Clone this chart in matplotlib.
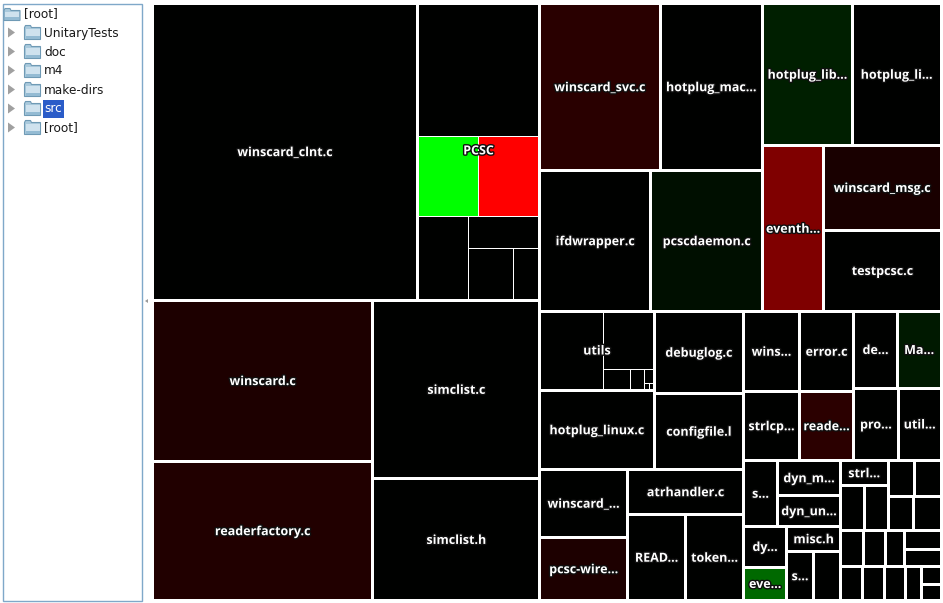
import math
import matplotlib
matplotlib.use('Agg')
import matplotlib.pyplot as plt
import matplotlib.patheffects as pe
from matplotlib.colors import LinearSegmentedColormap, Normalize
from matplotlib.patches import Rectangle, Polygon

# file names in the treemap, "" means the cell is too small for a label
files = ['winscard_clnt.c', '', '', '', '', '', '', '',
         'winscard.c', 'readerfactory.c', 'simclist.c', 'simclist.h',
         'winscard_svc.c', 'hotplug_mac...', 'ifdwrapper.c', 'pcscdaemon.c',
         'hotplug_lib...', 'hotplug_li...', 'eventh...', 'winscard_msg.c', 'testpcsc.c',
         '', '', '', '', '', '', '',
         'hotplug_linux.c', 'debuglog.c', 'configfile.l',
         'winscard_...', 'pcsc-wire...', 'atrhandler.c', 'READ...', 'token...',
         'wins...', 'error.c', 'strlcp...', 'reade...', 'de...', 'Ma...', 'pro...', 'util...',
         's...', 'dyn_m...', 'dyn_un...', 'dy...', 'eve...', 'misc.h', 's...', '',
         'strl...', '', '', '', '', '', '',
         '', '', '', '', '',
         '', '', '', '', '', '']

# size of each file
sizes = [78705, 16300, 4883, 4883, 4250, 2350, 2300, 1318,
         35530, 30670, 29810, 20290,
         20124, 17118, 15651, 15792,
         12780, 12567, 10126, 9929, 9576,
         5066, 2947, 564, 292, 124, 28, 25,
         9046, 7339, 6802,
         5984, 5544, 5220, 4988, 4988,
         4480, 4320, 3864, 3726, 3366, 3328, 3262, 3081,
         2244, 2205, 1953, 1742, 1441, 1350, 1323, 1323,
         1188, 1058, 1080, 954, 954, 867, 935,
         810, 792, 684, 685, 648,
         748, 748, 714, 527, 341, 322]

# change per file, -1 is full red, 0 black, 1 full green
heat = [0, 0, 1, -1, 0, 0, 0, 0,
        -0.11, -0.13, 0, 0,
        -0.16, 0, 0, 0.06,
        0.12, 0, -0.5, -0.1, 0,
        0, 0, 0, 0, 0, 0, 0,
        0, 0, 0,
        0, -0.11, 0, 0, 0,
        0, 0, 0, -0.17, 0, 0.1, 0, 0,
        0, 0, 0, 0, 0.41, 0, 0, 0,
        0, 0, 0, 0, 0, 0, 0,
        0, 0, 0, 0, 0,
        0, 0, 0, 0, 0, 0]

# how the files nest: (split direction, children, directory label)
pcsc = ('v', [1, ('h', [2, 3]),
              ('h', [4, ('v', [5, ('h', [6, 7])])])], 'PCSC')
utils = ('h', [21, ('v', [22, ('h', [23, 24, ('v', [25, ('h', [26, 27])])])])], 'utils')
left_part = ('v', [('h', [0, pcsc]),
                   ('h', [('v', [8, 9]), ('v', [10, 11])])])
top_right = ('h', [('v', [('h', [12, 13]), ('h', [14, 15])]),
                   ('v', [('h', [16, 17]), ('h', [18, ('v', [19, 20])])])])
mid_left = ('v', [('h', [('v', [utils, 28]), ('v', [29, 30])]),
                  ('h', [('v', [31, 32]), ('v', [33, ('h', [34, 35])])])])
mid_right = ('h', [('v', [('h', [36, 37]), ('h', [38, 39])]),
                   ('v', [('h', [40, 41]), ('h', [42, 43])])])
small_a = ('v', [('h', [44, ('v', [45, 46])]),
                 ('h', [('v', [47, 48]), ('v', [49, ('h', [50, 51])])])])
small_b = ('v', [('h', [('v', [52, ('h', [53, 54])]),
                        ('v', [('h', [55, 56]), ('h', [57, 58])])]),
                 ('v', [('h', [59, 60, 61, ('v', [62, 63])]),
                        ('h', [64, 65, 66, 67, ('v', [68, 69])])])])
tree = ('h', [left_part,
              ('v', [top_right,
                     ('h', [mid_left, ('v', [mid_right, ('h', [small_a, small_b])])])])])

# left hand directory tree
tree_labels = ['UnitaryTests', 'doc', 'm4', 'make-dirs', 'src', '[root]']

fig = plt.figure(figsize=(9.43, 6.03), dpi=100)
ax = fig.add_axes([0, 0, 1, 1])
ax.set_xlim(0, 943)
ax.set_ylim(603, 0)
ax.axis('off')

cmap = LinearSegmentedColormap.from_list('rbg', ['#ff0000', '#000000', '#00ff00'])
norm = Normalize(-1, 1)
outline = [pe.withStroke(linewidth=2, foreground='#101010')]


def total(node):
    if isinstance(node, int):
        return sizes[node]
    return sum(total(c) for c in node[1])


def label(x, y, txt):
    ax.text(x, y, txt, color='white', family='Open Sans', fontsize=9, fontweight='bold',
            ha='center', va='center', zorder=5, path_effects=outline)


def snap(v):
    return math.floor(v + 0.5)


def layout(node, x, y, w, h, inset=1.5):
    if isinstance(node, int):
        # keep the white gaps on whole pixels
        x0, x1 = snap(x + inset), snap(x + w - inset)
        y0, y1 = snap(y + inset), snap(y + h - inset)
        ax.add_patch(Rectangle((x0, y0), x1 - x0, y1 - y0, fc=cmap(norm(heat[node])),
                               ec='none', antialiased=False))
        if files[node]:
            label(x + w / 2, y + h / 2 + 0.7, files[node])
        return
    name = node[2] if len(node) > 2 else None
    if name:
        # directories shown as a box use thin lines inside
        label(x + w / 2, y + h / 2 - (1 if name == 'PCSC' else 0), name)
        x, y, w, h = x + 1, y + 1, w - 2, h - 2
        inset = 0.5
    whole = total(node)
    for child in node[1]:
        part = total(child) / whole
        if node[0] == 'h':
            layout(child, x, y, w * part, h, inset)
            x += w * part
        else:
            layout(child, x, y, w, h * part, inset)
            y += h * part


layout(tree, 152.5, 3.5, 788.5, 597)

# directory tree panel
ax.add_patch(Rectangle((2.5, 3.5), 139, 597, fc='white', ec='#7fa8c9', lw=1))


def folder(x, y, top=7, bottom=7):
    ax.add_patch(Polygon([(x, y - top + 2), (x + 1, y - top), (x + 6, y - top), (x + 7, y - top + 2),
                          (x + 16, y - top + 2), (x + 16, y + bottom), (x, y + bottom)],
                         fc='#a9c9dc', ec='#6f9ab5', lw=0.8, zorder=3))
    ax.add_patch(Rectangle((x + 1, y - top + 3), 14, top + bottom - 7, fc='#cfe2ee', ec='none', zorder=3))
    ax.add_patch(Rectangle((x + 1, y + bottom - 4), 14, 3, fc='#94bbd3', ec='none', zorder=3))


folder(4, 14.5, 6, 6)
ax.text(24, 14, '[root]', fontsize=8.7, color='#1a1a1a', va='center', zorder=4)
for i, name in enumerate(tree_labels):
    row = 32.5 + 19 * i
    ax.add_patch(Polygon([(8, row - 5), (15, row), (8, row + 5)], fc='#a0a0a0', ec='none'))
    folder(24.5, row)
    if name == 'src':
        ax.add_patch(Rectangle((43, row - 9), 21, 18, fc='#2a5cc8', ec='none', zorder=3))
    ax.text(44, row + 0.5, name, fontsize=8.7, va='center', zorder=4,
            color='white' if name == 'src' else '#1a1a1a')

# splitter handle
ax.add_patch(Polygon([(145, 301), (148, 299), (148, 303)], fc='#999999', ec='none'))

fig.savefig('out.png', dpi=100, facecolor='white')
